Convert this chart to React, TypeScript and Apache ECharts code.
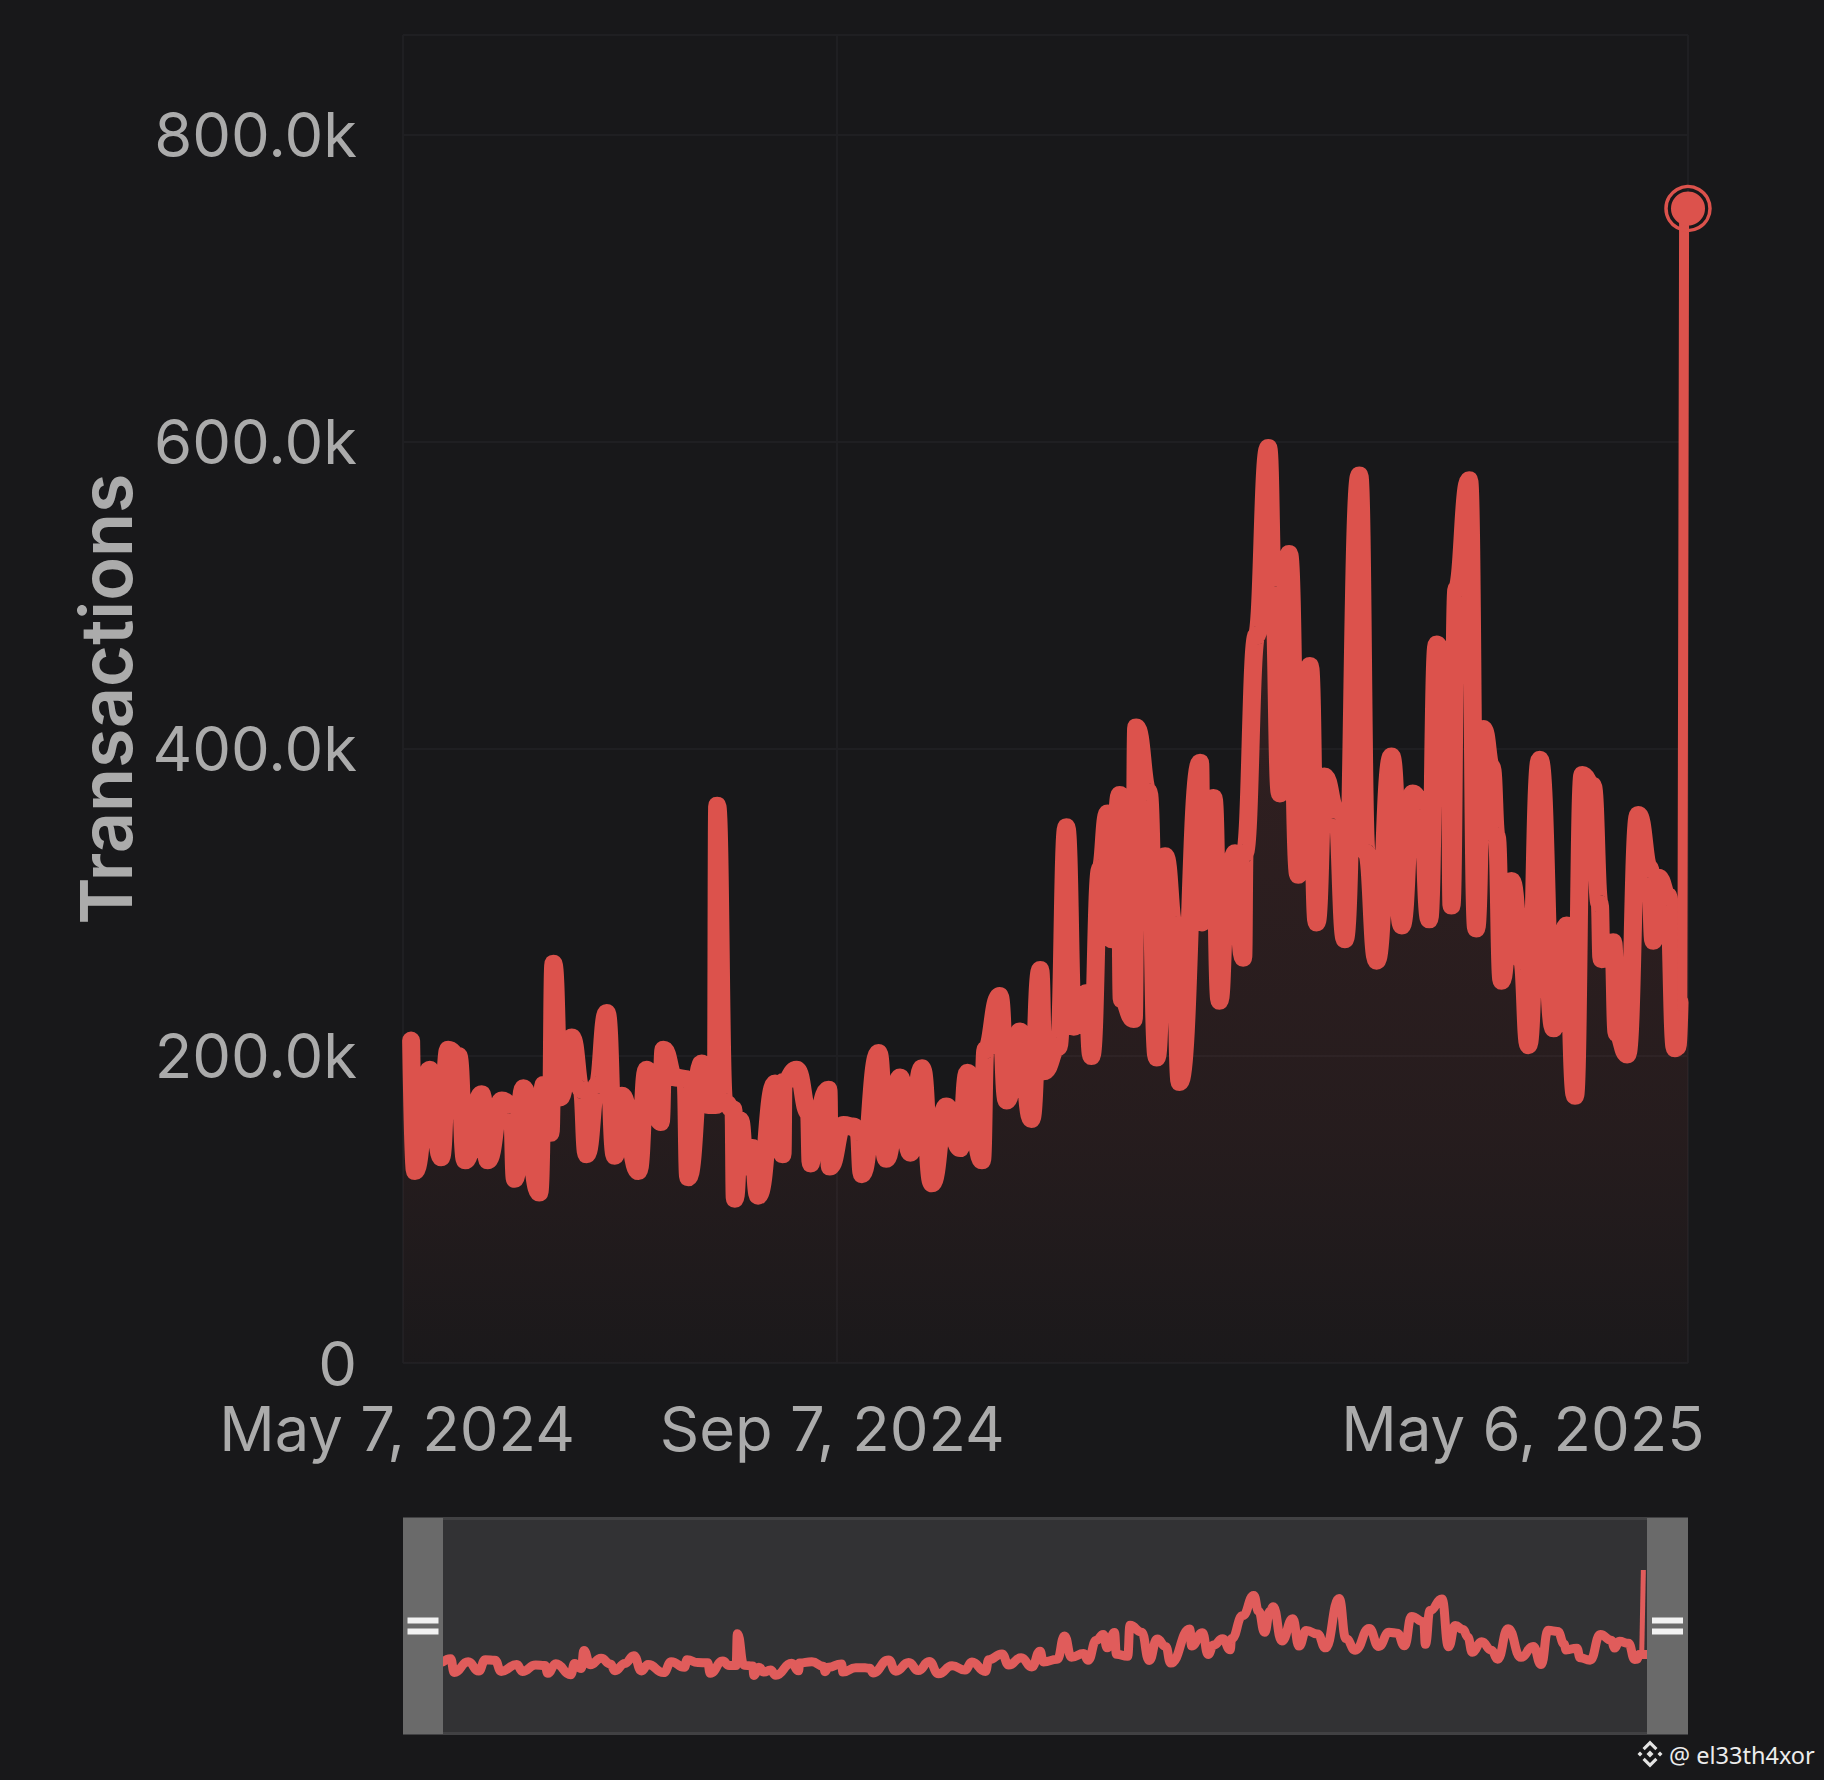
import React, { useEffect, useRef } from "react";
import * as echarts from "echarts";

const dayOffsets = [
  2.3, 3.4, 7.6, 10.8, 12.8, 15.7, 17.6, 22.3, 24, 28, 30.8, 31.7, 34.1, 38.6, 39.8, 41.8, 42.6, 44.5, 47.8,
  50.6, 52, 55, 57.7, 60, 62, 66.7, 69, 73, 73.8, 77, 80, 80.8, 84.6, 86.5, 88.6, 89, 91, 93.6, 94,
  95.5, 97, 99, 100.6, 105.4, 107.5, 107.8, 111.5, 115, 115.5, 116.5, 120.5, 120.9, 124.8, 127.6, 129, 130, 134.7, 136.9, 140.8,
  143.7, 147, 149.8, 153.9, 157.8, 159.9, 164, 165, 169, 171, 174.8, 178, 180.5, 181.5, 185.7, 187.9, 190, 193.7, 195, 197.5,
  199.6, 200.8, 203, 203.6, 207, 207.7, 211.2, 213.5, 215.9, 218.5, 220, 225.8, 226.3, 229.6, 231.3, 233, 235.7, 238, 238.4, 241.8,
  245.1, 246.6, 248.4, 250, 251, 253.6, 256.9, 258.8, 261, 264.4, 266.8, 270.9, 273, 275.8, 280, 282.9, 286, 288.5, 290.7, 292.8, 296.5, 297,
  298.4, 302, 304, 306, 308.4, 309.8, 311.2, 314, 317, 318.8, 322, 325.9, 329.6, 332, 334.1, 337, 339, 339.5, 342.8, 343.8,
  346.8, 349.9, 353.2, 354.2, 355.6, 358.4, 360.3, 361, 361.6,
];
const transactionsK = [
  210, 125, 191, 134, 204, 200, 132, 175, 132, 171, 168, 120, 179, 111, 181, 150, 260, 173, 212,
  178, 136, 181, 228, 135, 174, 125, 191, 157, 204, 186, 185, 121, 195, 168, 168, 363, 170, 165, 107,
  158, 128, 140, 109, 182, 136, 183, 191, 163, 130, 157, 178, 128, 155, 154, 151, 123, 202, 133, 186,
  137, 192, 117, 167, 140, 189, 132, 204, 239, 171, 216, 159, 256, 190, 206, 349, 219, 241, 200, 322,
  358, 276, 370, 237, 224, 414, 372, 199, 330, 285, 183, 391, 287, 368, 236, 294, 332, 264, 332, 474,
  596, 500, 371, 500, 527, 318, 454, 287, 382, 360, 276, 578, 332, 262, 395, 285, 371, 366, 289, 468, 435, 298,
  504, 575, 283, 413, 388, 343, 249, 314, 262, 207, 393, 218, 285, 174, 383, 376, 299, 263, 274, 215,
  201, 357, 322, 275, 316, 304, 205, 206, 235,
];
const firstDay = 0;
const firstK = 190;
const lastDay = 364;
const lastK = 235;
const finalSpikeDays = [362.4, 362.9];
const finalSpikeK = [232, 752];
const latestDay = 364;
const latestK = 752;

const yTicks: Record<number, string> = {
  0: "0",
  200000: "200.0k",
  400000: "400.0k",
  600000: "600.0k",
  800000: "800.0k",
};
const xTickDays = [0, 123, 364];
const xTickLabels = ["{a|May 7, 2024}", "{b|Sep 7, 2024}", "{c|May 6, 2025}"];

const BG = "#18181a";
const RED = "#dc524c";
const TXT = "#ababab";
const GRID = "#1f1f22";
const FONT = "Inter";

const toPoint = (d: number, k: number) => [d, k * 1000];
const mainPoints = dayOffsets.map((d, i) => toPoint(d, transactionsK[i]));
const fullPoints = [toPoint(firstDay, firstK), ...mainPoints, toPoint(lastDay, lastK)];
const spikePoints = finalSpikeDays.map((d, i) => toPoint(d, finalSpikeK[i]));

const labelRich = {
  fontFamily: FONT,
  fontSize: 61.5,
  lineHeight: 60,
  color: TXT,
};

function buildOption() {
  return {
    animation: false,
    backgroundColor: BG,
    grid: [
      { left: 403, top: 35, width: 1285, height: 1328, show: false, outerBoundsMode: "none" },
      { left: 443, top: 1518, width: 1204, height: 175, show: false, outerBoundsMode: "none" },
    ],
    xAxis: [
      {
        type: "value",
        gridIndex: 0,
        min: 0,
        max: 364,
        axisLine: { show: false },
        axisTick: { show: false, customValues: xTickDays },
        splitLine: { show: true, lineStyle: { color: GRID, width: 2 } },
        axisLabel: {
          customValues: xTickDays,
          margin: 35,
          hideOverlap: false,
          showMinLabel: true,
          showMaxLabel: true,
          formatter: (v: number) => xTickLabels[xTickDays.indexOf(v)] ?? "",
          rich: {
            a: { ...labelRich, padding: [0, 12, 0, 0] },
            b: { ...labelRich, padding: [0, 10, 0, 0] },
            c: { ...labelRich, padding: [0, 330, 0, 0] },
          },
        },
      },
      {
        type: "value",
        gridIndex: 1,
        min: 0,
        max: 364,
        show: false,
      },
    ],
    yAxis: [
      {
        type: "value",
        gridIndex: 0,
        min: 0,
        max: 865000,
        interval: 200000,
        name: "Transactions",
        nameLocation: "middle",
        nameGap: 259,
        nameRotate: 90,
        nameTextStyle: { fontFamily: FONT, fontSize: 72, fontWeight: 600, color: TXT },
        axisLine: { show: false },
        axisTick: { show: false },
        splitLine: { show: true, lineStyle: { color: GRID, width: 2 } },
        axisLabel: {
          margin: 46,
          fontFamily: FONT,
          fontSize: 61.5,
          lineHeight: 50,
          color: TXT,
          showMaxLabel: false,
          formatter: (v: number) => yTicks[v] ?? "",
        },
      },
      { type: "value", gridIndex: 1, min: 0, max: 1070000, show: false },
    ],
    series: [
      {
        type: "line",
        name: "Area",
        xAxisIndex: 0,
        yAxisIndex: 0,
        data: fullPoints,
        showSymbol: false,
        smooth: true,
        smoothMonotone: "x",
        clip: true,
        lineStyle: { width: 0, opacity: 0 },
        areaStyle: {
          color: new echarts.graphic.LinearGradient(0, 0, 0, 1, [
            { offset: 0, color: "rgba(220,82,76,0.22)" },
            { offset: 0.5, color: "rgba(220,82,76,0.14)" },
            { offset: 0.75, color: "rgba(220,82,76,0.1)" },
            { offset: 1, color: "rgba(220,82,76,0.02)" },
          ]),
        },
        z: 2,
      },
      {
        type: "line",
        name: "Transactions",
        xAxisIndex: 0,
        yAxisIndex: 0,
        data: mainPoints,
        showSymbol: false,
        smooth: true,
        smoothMonotone: "x",
        clip: true,
        lineStyle: { color: RED, width: 18, cap: "round", join: "round" },
        z: 3,
      },
      {
        type: "line",
        name: "Latest spike",
        xAxisIndex: 0,
        yAxisIndex: 0,
        data: spikePoints,
        showSymbol: false,
        clip: false,
        lineStyle: { color: RED, width: 10, cap: "round" },
        z: 3,
      },
      {
        type: "scatter",
        name: "Latest",
        xAxisIndex: 0,
        yAxisIndex: 0,
        data: [toPoint(latestDay, latestK)],
        clip: false,
        symbol: "circle",
        symbolSize: 34,
        itemStyle: { color: RED, opacity: 1 },
        z: 4,
      },
      {
        type: "scatter",
        name: "Latest ring",
        xAxisIndex: 0,
        yAxisIndex: 0,
        data: [toPoint(latestDay, latestK)],
        clip: false,
        symbol: "circle",
        symbolSize: 44,
        itemStyle: { color: "transparent", borderColor: RED, borderWidth: 3.5, opacity: 1 },
        z: 4,
      },
      {
        type: "line",
        name: "Overview",
        xAxisIndex: 1,
        yAxisIndex: 1,
        data: fullPoints,
        showSymbol: false,
        smooth: true,
        smoothMonotone: "x",
        clip: true,
        lineStyle: { color: "#e05c5b", width: 9, cap: "round", join: "round" },
        z: 3,
      },
      {
        type: "line",
        name: "Overview spike",
        xAxisIndex: 1,
        yAxisIndex: 1,
        data: spikePoints,
        showSymbol: false,
        clip: true,
        lineStyle: { color: "#e05c5b", width: 5 },
        z: 3,
      },
    ],
    graphic: [
      { type: "rect", z: 0, shape: { x: 403, y: 1517, width: 1285, height: 218 }, style: { fill: "#414143" } },
      { type: "rect", z: 0, shape: { x: 403, y: 1520, width: 1285, height: 212 }, style: { fill: "#323234" } },
      { type: "rect", z: 10, shape: { x: 403, y: 1518, width: 40, height: 216 }, style: { fill: "#6a6a6a" } },
      { type: "rect", z: 10, shape: { x: 1647, y: 1518, width: 41, height: 216 }, style: { fill: "#6a6a6a" } },
      { type: "rect", z: 11, shape: { x: 407.5, y: 1617.5, width: 31, height: 6 }, style: { fill: "#f2f2f2" } },
      { type: "rect", z: 11, shape: { x: 407.5, y: 1628.5, width: 31, height: 6 }, style: { fill: "#f2f2f2" } },
      { type: "rect", z: 11, shape: { x: 1652, y: 1617.5, width: 31, height: 6 }, style: { fill: "#f2f2f2" } },
      { type: "rect", z: 11, shape: { x: 1652, y: 1628.5, width: 31, height: 6 }, style: { fill: "#f2f2f2" } },
      { type: "polygon", z: 11, shape: { points: [[1650, 1740.5], [1657.5, 1748], [1655.3, 1750.2], [1650, 1745], [1644.7, 1750.2], [1642.5, 1748]] }, style: { fill: "#e4e4e4" } },
      { type: "polygon", z: 11, shape: { points: [[1650, 1767.5], [1657.5, 1760], [1655.3, 1757.8], [1650, 1763], [1644.7, 1757.8], [1642.5, 1760]] }, style: { fill: "#e4e4e4" } },
      { type: "polygon", z: 11, shape: { points: [[1650, 1750.5], [1653.5, 1754], [1650, 1757.5], [1646.5, 1754]] }, style: { fill: "#e4e4e4" } },
      { type: "polygon", z: 11, shape: { points: [[1640, 1751.5], [1642.5, 1754], [1640, 1756.5], [1637.5, 1754]] }, style: { fill: "#e4e4e4" } },
      { type: "polygon", z: 11, shape: { points: [[1660, 1751.5], [1662.5, 1754], [1660, 1756.5], [1657.5, 1754]] }, style: { fill: "#e4e4e4" } },
      {
        type: "text",
        z: 11,
        x: 1669,
        y: 1755,
        style: {
          text: "@ el33th4xor",
          fill: "#ececec",
          font: '23.5px "Noto Sans"',
          verticalAlign: "middle",
        },
      },
    ],
  };
}

export default function App() {
  const ref = useRef<HTMLDivElement>(null);
  useEffect(() => {
    document.body.style.margin = "0";
    document.body.style.background = BG;
    const chart = echarts.init(ref.current!, null, { renderer: "svg" });
    chart.setOption(buildOption() as any);
    return () => chart.dispose();
  }, []);
  return <div ref={ref} style={{ width: 1824, height: 1780 }} />;
}
